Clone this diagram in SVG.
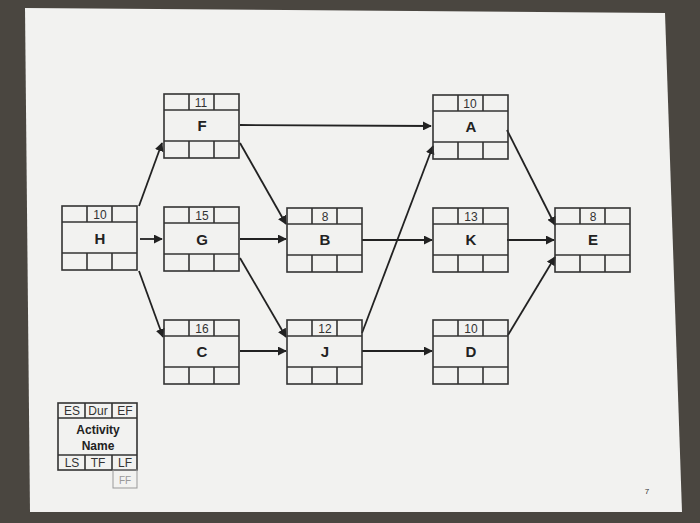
<svg xmlns="http://www.w3.org/2000/svg" width="700" height="523" viewBox="0 0 700 523">
<defs>
<style>
.b{fill:none;stroke:#333;stroke-width:1.6}
.c{stroke:#222;stroke-width:1.8;fill:none}
.n{font-family:"Liberation Sans",Arial,sans-serif;font-size:12px;fill:#333;text-anchor:middle}
.t{font-family:"Liberation Sans",Arial,sans-serif;font-size:15px;font-weight:bold;fill:#222;text-anchor:middle}
</style>
<marker id="ar" viewBox="0 0 10 10" refX="9" refY="5" markerWidth="5" markerHeight="5" orient="auto"><path d="M0,0L10,5L0,10z" fill="#222"/></marker>
<g id="box"><rect class="b" x="0" y="0" width="75" height="64"/><line class="b" x1="0" y1="16" x2="75" y2="16"/><line class="b" x1="0" y1="47" x2="75" y2="47"/><line class="b" x1="25" y1="0" x2="25" y2="16"/><line class="b" x1="50" y1="0" x2="50" y2="16"/><line class="b" x1="25" y1="47" x2="25" y2="64"/><line class="b" x1="50" y1="47" x2="50" y2="64"/></g>
</defs>
<rect width="700" height="523" fill="#4a4640"/>
<polygon points="25,8 665,13 682,512 30,512" fill="#f2f2f0"/>
<g id="connectors">
<line class="c" x1="139" y1="206" x2="162" y2="143" marker-end="url(#ar)"/>
<line class="c" x1="140" y1="239" x2="162" y2="239" marker-end="url(#ar)"/>
<line class="c" x1="139" y1="271" x2="163" y2="337" marker-end="url(#ar)"/>
<line class="c" x1="240" y1="125" x2="431" y2="126" marker-end="url(#ar)"/>
<line class="c" x1="240" y1="143" x2="286" y2="224" marker-end="url(#ar)"/>
<line class="c" x1="240" y1="239" x2="286" y2="239" marker-end="url(#ar)"/>
<line class="c" x1="240" y1="258" x2="286" y2="337" marker-end="url(#ar)"/>
<line class="c" x1="362" y1="240" x2="432" y2="240" marker-end="url(#ar)"/>
<line class="c" x1="240" y1="351" x2="286" y2="351" marker-end="url(#ar)"/>
<line class="c" x1="362" y1="333" x2="433" y2="146" marker-end="url(#ar)"/>
<line class="c" x1="362" y1="351" x2="432" y2="351" marker-end="url(#ar)"/>
<line class="c" x1="507" y1="130" x2="555" y2="225" marker-end="url(#ar)"/>
<line class="c" x1="507" y1="240" x2="554" y2="240" marker-end="url(#ar)"/>
<line class="c" x1="508" y1="335" x2="555" y2="257" marker-end="url(#ar)"/>
</g>
<g id="F"><use href="#box" x="164" y="94"/><text class="n" x="201" y="107">11</text><text class="t" x="202" y="131">F</text></g>
<g id="A"><use href="#box" x="433" y="95"/><text class="n" x="470" y="108">10</text><text class="t" x="471" y="132">A</text></g>
<g id="H"><use href="#box" x="62" y="206"/><text class="n" x="100" y="219">10</text><text class="t" x="100" y="244">H</text></g>
<g id="G"><use href="#box" x="164" y="207"/><text class="n" x="202" y="220">15</text><text class="t" x="202" y="245">G</text></g>
<g id="B"><use href="#box" x="287" y="208"/><text class="n" x="325" y="221">8</text><text class="t" x="325" y="245">B</text></g>
<g id="K"><use href="#box" x="433" y="208"/><text class="n" x="471" y="221">13</text><text class="t" x="471" y="245">K</text></g>
<g id="E"><use href="#box" x="555" y="208"/><text class="n" x="593" y="221">8</text><text class="t" x="593" y="245">E</text></g>
<g id="C"><use href="#box" x="164" y="320"/><text class="n" x="202" y="333">16</text><text class="t" x="202" y="357">C</text></g>
<g id="J"><use href="#box" x="287" y="320"/><text class="n" x="325" y="333">12</text><text class="t" x="325" y="357">J</text></g>
<g id="D"><use href="#box" x="433" y="320"/><text class="n" x="471" y="333">10</text><text class="t" x="471" y="357">D</text></g>
<g id="legend">
<rect class="b" x="58" y="403" width="79" height="67"/>
<line class="b" x1="58" y1="418" x2="137" y2="418"/><line class="b" x1="58" y1="455" x2="137" y2="455"/>
<line class="b" x1="85" y1="403" x2="85" y2="418"/><line class="b" x1="112" y1="403" x2="112" y2="418"/>
<line class="b" x1="85" y1="455" x2="85" y2="470"/><line class="b" x1="112" y1="455" x2="112" y2="470"/>
<rect x="113" y="470" width="24" height="18" fill="none" stroke="#999" stroke-width="1"/>
<text class="n" x="72" y="415">ES</text><text class="n" x="98" y="415">Dur</text><text class="n" x="125" y="415">EF</text>
<text class="t" x="98" y="434" style="font-size:12px">Activity</text><text class="t" x="98" y="450" style="font-size:12px">Name</text>
<text class="n" x="72" y="467">LS</text><text class="n" x="98" y="467">TF</text><text class="n" x="125" y="467">LF</text>
<text class="n" x="125" y="484" style="fill:#999;font-size:10px">FF</text>
</g>
<text class="n" x="647" y="494" style="font-size:8px">7</text>
</svg>
